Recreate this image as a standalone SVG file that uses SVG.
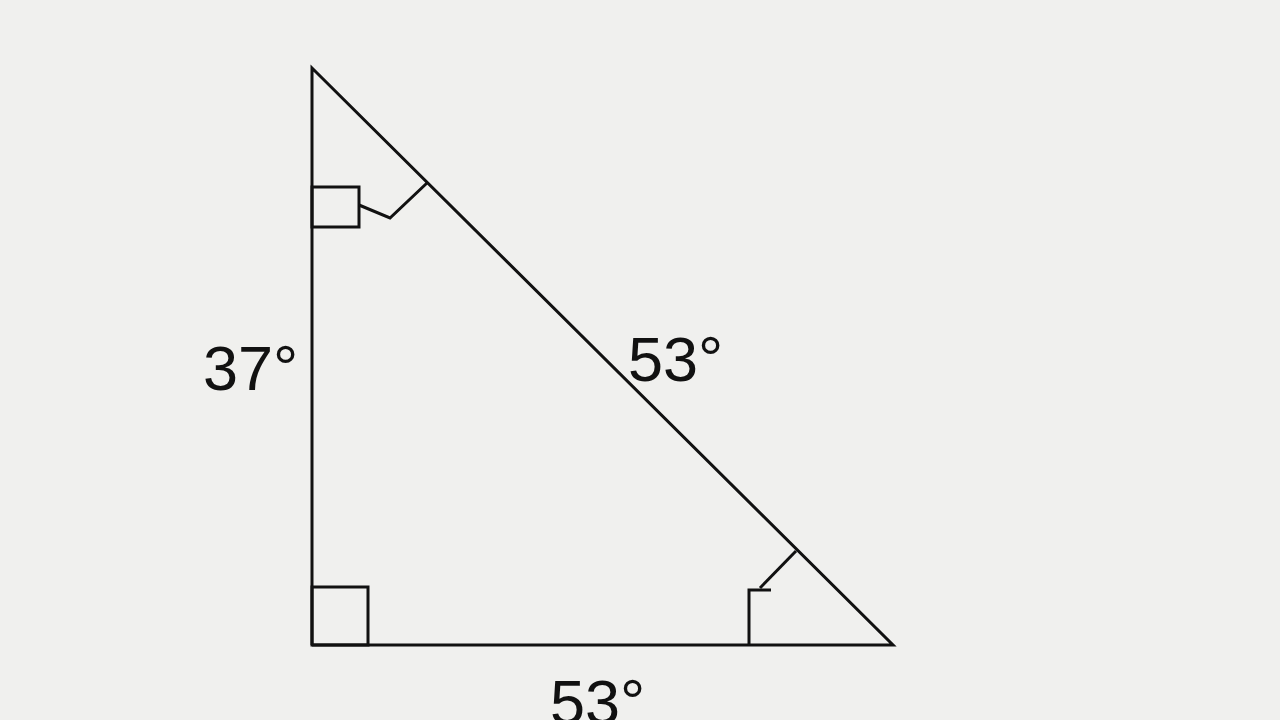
<svg xmlns="http://www.w3.org/2000/svg" width="1280" height="720" viewBox="0 0 1280 720">
<style>
.ln{fill:none;stroke:#111;stroke-width:3;stroke-linejoin:miter;stroke-linecap:butt}
.lbl{font-family:"Liberation Sans",Arial,sans-serif;font-size:63px;fill:#111}
</style>
<rect width="1280" height="720" fill="#f0f0ee"/>
<g id="triangle">
<polyline class="ln" points="312,645 312,68 893,645 312,645"/>
</g>
<g id="markers">
<rect class="ln" x="312" y="187" width="47" height="40"/>
<polyline class="ln" points="359,205 390,218 427,183"/>
<rect class="ln" x="312" y="587" width="56" height="58"/>
<polyline class="ln" points="749,645 749,590 771,590"/>
<polyline class="ln" points="760,588 796,551"/>
</g>
<g id="labels">
<text class="lbl" x="203" y="390">37°</text>
<text class="lbl" x="628" y="381">53°</text>
<text class="lbl" x="550" y="724">53°</text>
</g>
</svg>
